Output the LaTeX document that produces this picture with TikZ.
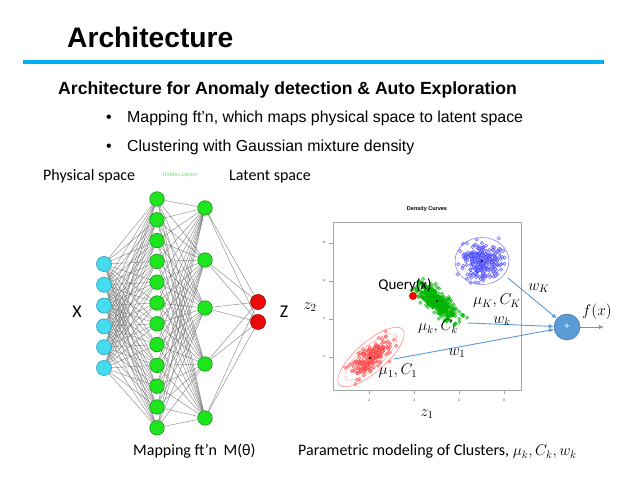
\RequirePackage{fix-cm}
\documentclass[tikz,border=0pt]{standalone}
\usepackage{fontspec}
\setmainfont{Liberation Sans}
\newfontfamily\calfont{Carlito}
\usetikzlibrary{arrows.meta}
\pgfdeclarelayer{background}
\pgfdeclarelayer{bottom}
\pgfsetlayers{bottom,background,main}
\definecolor{rulecol}{RGB}{0,176,240}
\definecolor{incol}{RGB}{70,220,240}
\definecolor{incold}{RGB}{40,160,185}
\definecolor{hidcol}{RGB}{30,230,30}
\definecolor{hidcold}{RGB}{20,150,20}
\definecolor{outcol}{RGB}{235,10,10}
\definecolor{outcold}{RGB}{160,0,0}
\definecolor{arrcol}{RGB}{91,155,213}
\definecolor{sumcold}{RGB}{65,113,156}
\definecolor{hidtxt}{RGB}{110,220,110}
\definecolor{framecol}{RGB}{165,165,165}
\begin{document}
\begin{tikzpicture}[x=1pt,y=-1pt,
  lbl/.style={inner sep=0pt, font=\calfont\fontsize{16}{19}\selectfont},
  mlbl/.style={inner sep=0pt, font=\fontsize{15.5}{18}\selectfont},
  neuron/.style={circle, minimum size=15pt, inner sep=0pt, line width=0.6pt},
  inN/.style={neuron, fill=incol, draw=incold},
  hidN/.style={neuron, minimum size=14.5pt, fill=hidcol, draw=hidcold},
  outN/.style={neuron, fill=outcol, draw=outcold},
  edge/.style={draw=black!60, line width=0.45pt, opacity=0.75},
  arr/.style={draw=arrcol, line width=0.9pt, -{Latex[length=5pt,width=4.5pt]}},
  bpt/.style={draw=blue!85, fill=blue!35, fill opacity=0.55, draw opacity=0.7, line width=0.35pt},
  gpt/.style={draw=green!65!black, fill=green!80!black, fill opacity=0.55, draw opacity=0.7, line width=0.35pt},
  rpt/.style={draw=red!85, fill=red!45, fill opacity=0.55, draw opacity=0.7, line width=0.35pt},
  ticklbl/.style={inner sep=0pt, font=\fontsize{3.5}{4}\selectfont, text=black!70},
]
\useasboundingbox (0,0) rectangle (638,478);
\begin{pgfonlayer}{bottom}
\fill[white] (0,0) rectangle (638,478);
\end{pgfonlayer}

% header
\node[anchor=base west, inner sep=0pt, font=\bfseries\fontsize{28.2}{32}\selectfont] (title) at (67,47.5) {Architecture};
\draw[rulecol, line width=4pt] (23,62) -- (604,62);
\node[anchor=base west, inner sep=0pt, font=\bfseries\fontsize{17.6}{21}\selectfont] (sub) at (58,95) {Architecture for Anomaly detection \& Auto Exploration};
\node[anchor=base west, inner sep=0pt, font=\fontsize{15.9}{19}\selectfont] (dot1) at (106,123) {•};
\node[anchor=base west, inner sep=0pt, font=\fontsize{15.9}{19}\selectfont] (bul1) at (127,123) {Mapping ft’n, which maps physical space to latent space};
\node[anchor=base west, inner sep=0pt, font=\fontsize{15.9}{19}\selectfont] (dot2) at (106,152) {•};
\node[anchor=base west, inner sep=0pt, font=\fontsize{15.9}{19}\selectfont] (bul2) at (127,152) {Clustering with Gaussian mixture density};

% network labels
\node[lbl, anchor=base west] (phys) at (43,180.5) {Physical space};
\node[inner sep=0pt, font=\calfont\fontsize{6}{7}\selectfont, text=hidtxt] (hid) at (180,175) {Hidden Layers};
\node[lbl, anchor=base west] (lat) at (229,180.5) {Latent space};

% neurons
\foreach \i in {1,...,6}{
  \node[inN] (i\i) at (104,{264+(\i-1)*20.8}) {};
}
\foreach \j in {1,...,12}{
  \node[hidN] (h\j) at (157,{199+(\j-1)*20.8}) {};
}
\foreach \j/\yy in {1/208,2/260,3/308,4/364,5/418}{
  \node[hidN] (g\j) at (205,\yy) {};
}
\node[outN] (o1) at (258,302) {};
\node[outN] (o2) at (258,322) {};

\begin{pgfonlayer}{background}
\foreach \i in {1,...,6}{
  \foreach \j in {1,...,12}{
    \draw[edge] (i\i) -- (h\j);
  }
}
\foreach \i in {1,...,12}{
  \foreach \j in {1,...,5}{
    \draw[edge] (h\i) -- (g\j);
  }
}
\foreach \i in {1,...,5}{
  \foreach \j in {1,2}{
    \draw[edge] (g\i) -- (o\j);
  }
}
\end{pgfonlayer}

\node[inner sep=0pt, font=\calfont\fontsize{18}{20}\selectfont] (X) at (77,312) {X};
\node[inner sep=0pt, font=\calfont\fontsize{18}{20}\selectfont] (Z) at (284,312) {Z};
\node[lbl, anchor=base west] (mapf) at (133,456) {Mapping ft’n\hspace{3pt} M(θ)};

% plot
\node[inner sep=0pt, font=\bfseries\fontsize{5.5}{6}\selectfont] (dens) at (427,209) {Density Curves};
\draw[framecol, line width=0.9pt] (333,222) rectangle (521,390);
\foreach \yy/\v in {243/8,281/6,319/4,357/2}{
  \draw[framecol, line width=0.4pt] (333,\yy) -- (329,\yy);
  \node[ticklbl, rotate=90] at (324,\yy) {\v};
}
\foreach \xx/\v in {369/2,414/4,459/6,504/8}{
  \draw[framecol, line width=0.4pt] (\xx,390) -- (\xx,394);
  \node[ticklbl] at (\xx,400) {\v};
}
\node[mlbl] (z2) at (310,307) {$z_2$};
\node[mlbl] (z1) at (427,414) {$z_1$};

\pgfmathsetseed{4242}
% blue cluster
\foreach \k in {1,...,260}{
  \pgfmathsetmacro\myA{10*(rand+rand+rand)}
  \pgfmathsetmacro\myB{9*(rand+rand+rand)}
  \draw[bpt] (482+\myA,261+\myB) circle (1.8);
}
\draw[blue!55, line width=0.5pt] (482,261) ellipse (27 and 23.5);
\fill[black] (482,261) circle (1.2);
% green cluster
\foreach \k in {1,...,360}{
  \pgfmathsetmacro\myA{12.5*(rand+rand+rand)}
  \pgfmathsetmacro\myB{4.5*(rand+rand+rand)}
  \draw[gpt] (437+0.75*\myA-0.66*\myB,301+0.66*\myA+0.75*\myB) circle (1.8);
}
\fill[black] (437,301) circle (1.2);
% red cluster
\foreach \k in {1,...,200}{
  \pgfmathsetmacro\myA{12.5*(rand+rand+rand)}
  \pgfmathsetmacro\myB{5.5*(rand+rand+rand)}
  \draw[rpt] (370+0.75*\myA+0.66*\myB,358-0.66*\myA+0.75*\myB) circle (1.8);
}
\draw[red!50, line width=0.5pt, shift={(371,357)}, rotate=41] (0,0) ellipse (42 and 15);
\draw[red!40, line width=0.4pt, shift={(371,357)}, rotate=41] (0,0) ellipse (33 and 11);
\fill[black] (370,358) circle (1.2);

\node[circle, fill=red, minimum size=8pt, inner sep=0pt] (q) at (413,296) {};
\node[inner sep=0pt, font=\calfont\fontsize{15}{18}\selectfont] (qlbl) at (405,285) {Query(x)};

\node[mlbl] (pK) at (497,301) {$\mu_K, C_K$};
\node[mlbl] (pk) at (438,327) {$\mu_k, C_k$};
\node[mlbl] (p1) at (398,371) {$\mu_1, C_1$};

% sum and arrows
\node[circle, fill=arrcol, draw=sumcold, line width=0.5pt, minimum size=26pt, inner sep=0pt, text=white, font=\fontsize{10}{10}\selectfont] (sum) at (567,327) {+};
\coordinate (bK) at (508,278);
\coordinate (gk) at (468,323);
\coordinate (r1) at (394,359);
\coordinate (out) at (604,327);
\draw[arr] (bK) -- (sum);
\draw[arr] (gk) -- (sum);
\draw[arr] (r1) -- (sum);
\draw[arr] (sum) -- (out);
\node[mlbl] (wK) at (539,288) {$w_K$};
\node[mlbl] (wk) at (502,321) {$w_k$};
\node[mlbl] (w1) at (457,353) {$w_1$};
\node[mlbl] (fx) at (597,312) {$f(x)$};

\node[lbl, anchor=base west] (cap) at (298,456) {Parametric modeling of Clusters, {\fontsize{15.5}{18}\selectfont$\mu_k, C_k, w_k$}};
\end{tikzpicture}
\end{document}
